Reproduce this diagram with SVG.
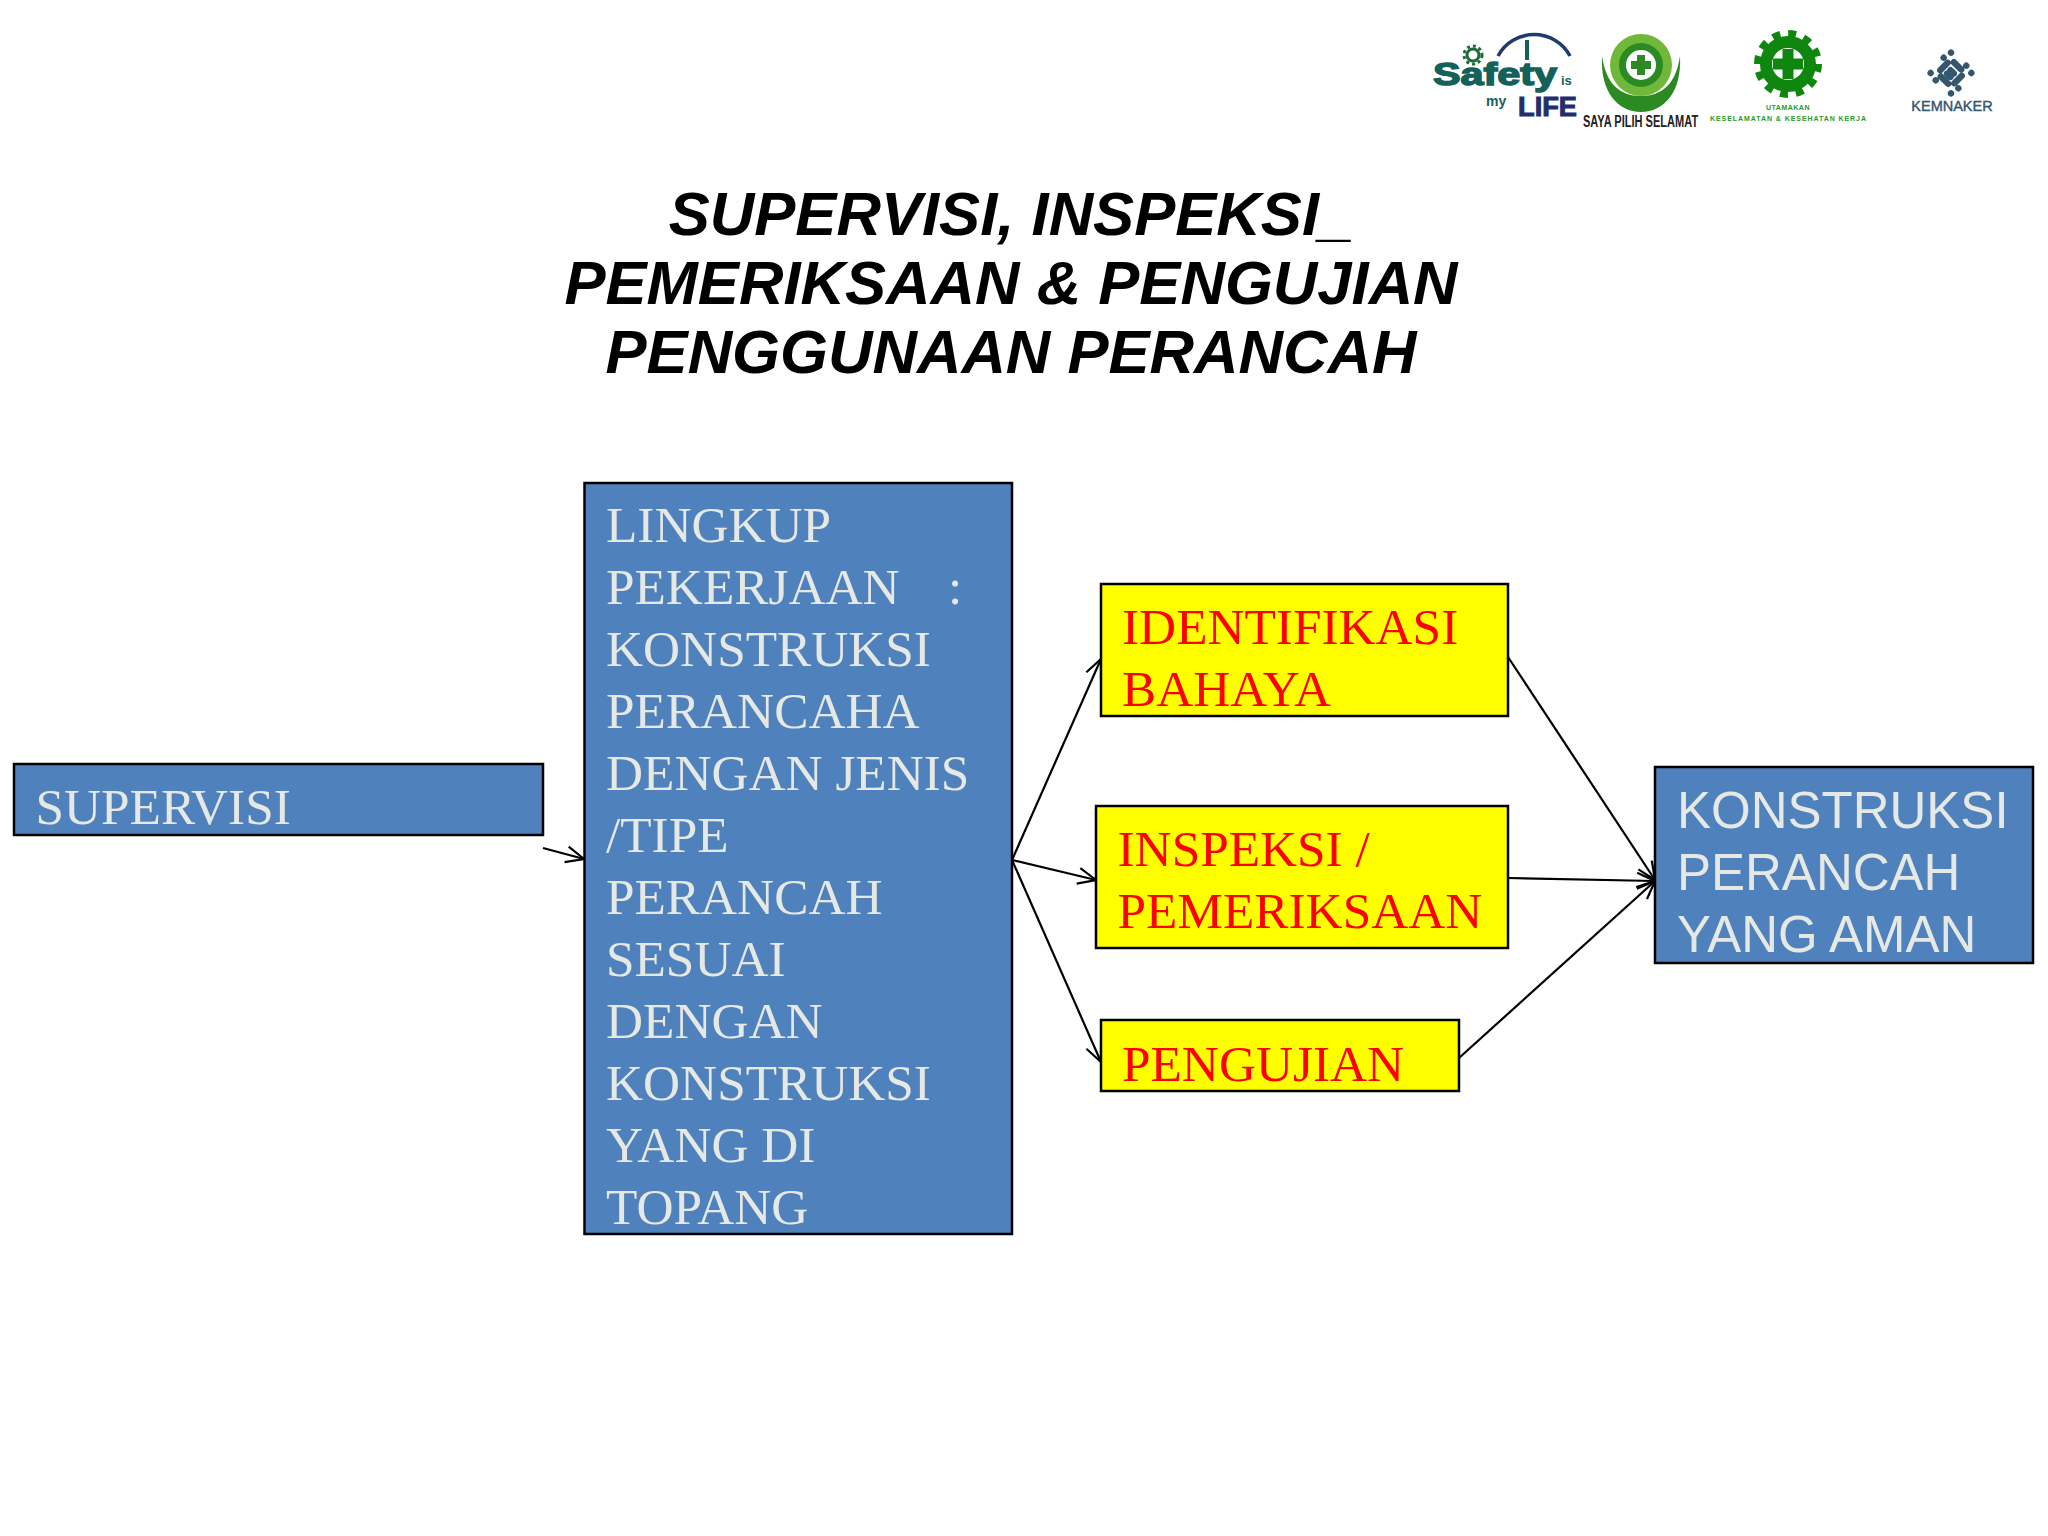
<svg xmlns="http://www.w3.org/2000/svg" width="2048" height="1536" viewBox="0 0 2048 1536">
<style>
.box{stroke:#000;stroke-width:2.5}
.blue{fill:#4f81bd}
.yel{fill:#ff0}
.s{font-family:"Liberation Serif",serif;font-size:51.300px}
.w{fill:#e6e8e4}
.r{fill:#f00}
.a{font-family:"Liberation Sans",sans-serif;font-size:51px;fill:#e6e8e4}
.t{font-family:"Liberation Sans",sans-serif;font-size:61.600px;font-weight:bold;font-style:italic;text-anchor:middle;fill:#000}
.c{fill:none;stroke:#000;stroke-width:2.2}
.lg{font-family:"Liberation Sans",sans-serif;font-weight:bold}
</style>
<defs>
<marker id="arr" viewBox="0 0 20 20" refX="19" refY="10" markerWidth="20" markerHeight="20" markerUnits="userSpaceOnUse" orient="auto"><path d="M1 2L19 10L1 18" fill="none" stroke="#000" stroke-width="2.2"/></marker>
<g id="gear"><circle r="30" fill="none" stroke="#0f870f" stroke-width="8" stroke-dasharray="7.850 7.850"/><circle r="22" fill="none" stroke="#0f870f" stroke-width="12"/><rect x="-5.500" y="-15" width="11" height="30" fill="#0f870f"/><rect x="-15" y="-5.500" width="30" height="11" fill="#0f870f"/></g>
</defs>
<rect width="2048" height="1536" fill="#fff"/>
<g id="title"><text class="t" x="1011" y="235">SUPERVISI, INSPEKSI_</text><text class="t" x="1011" y="304">PEMERIKSAAN &amp; PENGUJIAN</text><text class="t" x="1011" y="373">PENGGUNAAN PERANCAH</text></g>
<g id="logos">
<g id="logo-safety"><path d="M1498 56A41 41 0 0 1 1570 56" fill="none" stroke="#1f3a6e" stroke-width="3.500"/><path d="M1527 40V60" stroke="#14605a" stroke-width="4"/><circle cx="1473" cy="55" r="6" fill="none" stroke="#1a6b3a" stroke-width="3"/><circle cx="1473" cy="55" r="9" fill="none" stroke="#1a6b3a" stroke-width="3" stroke-dasharray="3 3"/><text class="lg" x="1433" y="85" font-size="32" fill="#14605a" stroke="#14605a" stroke-width="1.500" textLength="124" lengthAdjust="spacingAndGlyphs">Safety</text><text class="lg" x="1561" y="85" font-size="13" fill="#14605a">is</text><text class="lg" x="1486" y="106" font-size="14" fill="#14605a">my</text><text class="lg" x="1518" y="116" font-size="27" fill="#1f2f6e" stroke="#1f2f6e" textLength="59" lengthAdjust="spacingAndGlyphs">LIFE</text></g>
<g id="logo-saya"><path d="M1602 56C1600 92 1618 112 1641 112C1664 112 1682 92 1680 56C1676 84 1662 96 1641 96C1620 96 1606 84 1602 56Z" fill="#2c8a22"/><circle cx="1641" cy="65" r="31" fill="#6fb83a"/><circle cx="1641" cy="65" r="22" fill="#2c8a22"/><circle cx="1641" cy="65" r="15" fill="#fff"/><rect x="1637" y="55" width="8" height="20" fill="#2c8a22"/><rect x="1631" y="61" width="20" height="8" fill="#2c8a22"/><text class="lg" transform="translate(1583 127) scale(.65 1)" font-size="17" fill="#222">SAYA PILIH SELAMAT</text></g>
<g id="logo-k3"><use href="#gear" x="1788" y="64"/><text class="lg" x="1788" y="110" text-anchor="middle" font-size="7" fill="#2a9a2a" letter-spacing=".5">UTAMAKAN</text><text class="lg" x="1788" y="121" text-anchor="middle" font-size="7" fill="#2a9a2a" textLength="156" lengthAdjust="spacing">KESELAMATAN &amp; KESEHATAN KERJA</text></g>
<g id="logo-kemnaker"><g transform="translate(1951 73) rotate(45) scale(.8)" fill="none" stroke="#34566f" stroke-width="8" stroke-linecap="round"><path d="M-7 -12H6M-6 12H7M12 -7V6M-12 -6V7M-3 -2H3M-3 4H3M-18 -18H-18M18 -18H18M18 18H18M-18 18H-18M-20 -7V-7M7 -20H7M20 7V7M-7 20H-7"/></g><text x="1952" y="111" text-anchor="middle" font-family="Liberation Sans,sans-serif" font-size="14.500" fill="#34566f" stroke="#34566f" stroke-width=".4">KEMNAKER</text></g>
</g>
<g id="connectors">
<path class="c" marker-end="url(#arr)" d="M543 848L584 859"/>
<path class="c" marker-end="url(#arr)" d="M1012 860L1101 659"/>
<path class="c" marker-end="url(#arr)" d="M1012 860L1096 880"/>
<path class="c" marker-end="url(#arr)" d="M1012 860L1101 1062"/>
<path class="c" marker-end="url(#arr)" d="M1508 657L1655 880"/>
<path class="c" marker-end="url(#arr)" d="M1508 878L1655 881"/>
<path class="c" marker-end="url(#arr)" d="M1459 1058L1655 881"/>
</g>
<g id="node-supervisi"><rect class="box blue" x="14" y="764" width="529" height="71"/><text class="s w" x="35.500" y="824">SUPERVISI</text></g>
<g id="node-lingkup"><rect class="box blue" x="584.500" y="483" width="427.500" height="751"/>
<text class="s w"><tspan x="606" y="542">LINGKUP</tspan><tspan x="606" y="604">PEKERJAAN</tspan><tspan x="948" y="604">:</tspan><tspan x="606" y="666">KONSTRUKSI</tspan><tspan x="606" y="728">PERANCAHA</tspan><tspan x="606" y="790">DENGAN JENIS</tspan><tspan x="606" y="852">/TIPE</tspan><tspan x="606" y="914">PERANCAH</tspan><tspan x="606" y="976">SESUAI</tspan><tspan x="606" y="1038">DENGAN</tspan><tspan x="606" y="1100">KONSTRUKSI</tspan><tspan x="606" y="1162">YANG DI</tspan><tspan x="606" y="1224">TOPANG</tspan></text></g>
<g id="node-identifikasi"><rect class="box yel" x="1101" y="584" width="407" height="132"/><text class="s r"><tspan x="1122" y="644">IDENTIFIKASI</tspan><tspan x="1122" y="706">BAHAYA</tspan></text></g>
<g id="node-inspeksi"><rect class="box yel" x="1096" y="806" width="412" height="142"/><text class="s r"><tspan x="1117.500" y="866">INSPEKSI /</tspan><tspan x="1117.500" y="928">PEMERIKSAAN</tspan></text></g>
<g id="node-pengujian"><rect class="box yel" x="1101" y="1020" width="358" height="71"/><text class="s r" x="1122" y="1081">PENGUJIAN</text></g>
<g id="node-konstruksi"><rect class="box blue" x="1655" y="767" width="378" height="196"/><text class="a"><tspan x="1677" y="828">KONSTRUKSI</tspan><tspan x="1677" y="890">PERANCAH</tspan><tspan x="1677" y="952">YANG AMAN</tspan></text></g>
</svg>
